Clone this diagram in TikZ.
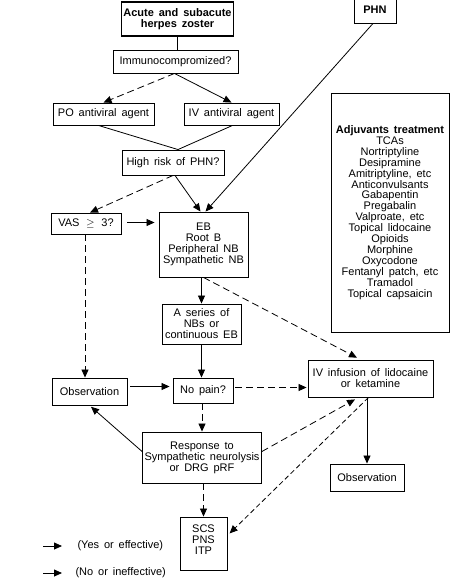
\documentclass[tikz,border=0pt]{standalone}
\usepackage{fontspec}
\setmainfont{Liberation Sans}[WordSpace=1.6]
\usetikzlibrary{arrows.meta, calc}

\begin{document}
\begin{tikzpicture}[x=1pt, y=-1pt,
    box/.style={draw, line width=0.9pt, align=center, inner sep=2pt,
        font=\fontsize{11}{11}\selectfont},
    link/.style={line width=0.8pt},
    yes/.style={link, -{Triangle[length=8pt,width=7pt]}},
    no/.style={yes, dash pattern=on 7pt off 4pt}]
    \useasboundingbox (0,0) rectangle (474,585);

    % top of the chart
    \node[box, line width=1.2pt, font=\fontsize{11}{11}\bfseries, minimum width=109, minimum height=34]
        (acute) at (177.5,19) {Acute and subacute\\herpes zoster};
    \node[box, font=\fontsize{11}{11}\bfseries, minimum width=42, minimum height=26]
        (phn) at (375,10) {PHN};
    \node[box, minimum width=125, minimum height=23] (immuno) at (175.5,61.5) {Immunocompromized?};
    \node[box, minimum width=101, minimum height=22] (poav) at (103.5,114) {PO antiviral agent};
    \node[box, minimum width=95, minimum height=22] (ivav) at (231.5,114) {IV antiviral agent};
    \node[box, minimum width=102, minimum height=25] (risk) at (173,162.5) {High risk of PHN?};

    % blocks
    \node[box, minimum width=70, minimum height=21] (vas) at (86,223.5) {VAS \,$\geq$\, 3?};
    \node[box, minimum width=89, minimum height=65] (eb) at (203.5,244.5)
        {EB\\Root B\\Peripheral NB\\Sympathetic NB};
    \node[box, minimum width=79, minimum height=40] (series) at (201.5,324)
        {A series of\\NBs or\\continuous EB};
    \node[box, minimum width=75, minimum height=27] (obsl) at (89.5,391.5) {Observation};
    \node[box, minimum width=60, minimum height=25] (nopain) at (203,390.5) {No pain?};
    \node[box, minimum width=125, minimum height=37] (ivinf) at (370.5,378.5)
        {IV infusion of lidocaine\\or ketamine};
    \node[box, minimum width=118, minimum height=51] (resp) at (202,457.5)
        {Response to\\Sympathetic neurolysis\\or DRG pRF};
    \node[box, minimum width=74, minimum height=27] (obsr) at (367,477.5) {Observation};
    \node[box, minimum width=47, minimum height=53] (scs) at (203.5,543.5) {SCS\\PNS\\ITP\\[-4pt]\mbox{}};

    % adjuvants
    \node[box, minimum width=118, minimum height=239, font=\fontsize{11}{10.9}\selectfont]
        (adj) at (390,212.5) {\textbf{Adjuvants treatment}\\TCAs\\Nortriptyline\\Desipramine\\
        Amitriptyline, etc\\Anticonvulsants\\Gabapentin\\Pregabalin\\Valproate, etc\\
        Topical lidocaine\\Opioids\\Morphine\\Oxycodone\\Fentanyl patch, etc\\Tramadol\\
        Topical capsaicin};

    % connectors
    \draw[link] (acute.south) -- (acute.south |- immuno.north);
    \draw[no] ([xshift=-1pt]immuno.south) -- (poav.north);
    \draw[yes] ([xshift=-1pt]immuno.south) -- (ivav.north);
    \draw[link] ([xshift=-5pt]poav.south) -- ([xshift=5pt]risk.north);
    \draw[link] ([xshift=1pt]ivav.south) -- ([xshift=5pt]risk.north);
    \draw[no] (risk.south) -- ([xshift=4pt]vas.north);
    \draw[yes] ([xshift=2pt]risk.south) -- ([xshift=-3pt]eb.north);
    \draw[yes] ([xshift=-2pt]phn.south) -- ([xshift=2pt]eb.north);
    \draw[yes, shorten <=6pt, shorten >=4pt] ([yshift=1pt]vas.east) -- ([yshift=1pt]vas.east -| eb.west);
    \draw[no] ([xshift=-1pt]vas.south) -- ([xshift=-1pt]vas.south |- obsl.north);
    \draw[yes] (eb.south -| series.north) -- (series.north);
    \draw[no, shorten >=4pt] (eb.south) -- ([xshift=-10pt]ivinf.north);
    \draw[yes] (series.south) -- (series.south |- nopain.north);
    \draw[yes, shorten <=3pt, shorten >=3pt] ([yshift=5pt]obsl.east) -- ([yshift=5pt]obsl.east -| nopain.west);
    \draw[no, shorten <=2pt, shorten >=1pt] ([yshift=3pt]nopain.east) -- ([yshift=3pt]nopain.east -| ivinf.west);
    \draw[no] (nopain.south -| resp.north) -- (resp.north);
    \draw[yes, shorten >=2pt] ([yshift=6pt]resp.west) -- (obsl.south);
    \draw[no, shorten >=4pt] ([yshift=6pt]resp.east) -- ([xshift=-12pt]ivinf.south);
    \draw[no, dash pattern=on 5pt off 3pt, shorten >=3pt] ([xshift=-2pt]ivinf.south) -- ([yshift=8pt]scs.east);
    \draw[yes] (ivinf.south -| obsr.north) -- (obsr.north);
    \draw[no] (resp.south -| scs.north) -- (scs.north);

    % legend
    \node[anchor=west, font=\fontsize{11}{11}\selectfont] (lyes) at (74,546) {(Yes or effective)};
    \node[anchor=west, font=\fontsize{11}{11}\selectfont] (lno) at (72,573) {(No or ineffective)};
    \draw[yes] ([xshift=-31pt]lyes.west) -- ([xshift=-12pt]lyes.west);
    \draw[yes] ([xshift=-29pt]lno.west) -- ([xshift=-10pt]lno.west);
\end{tikzpicture}
\end{document}
